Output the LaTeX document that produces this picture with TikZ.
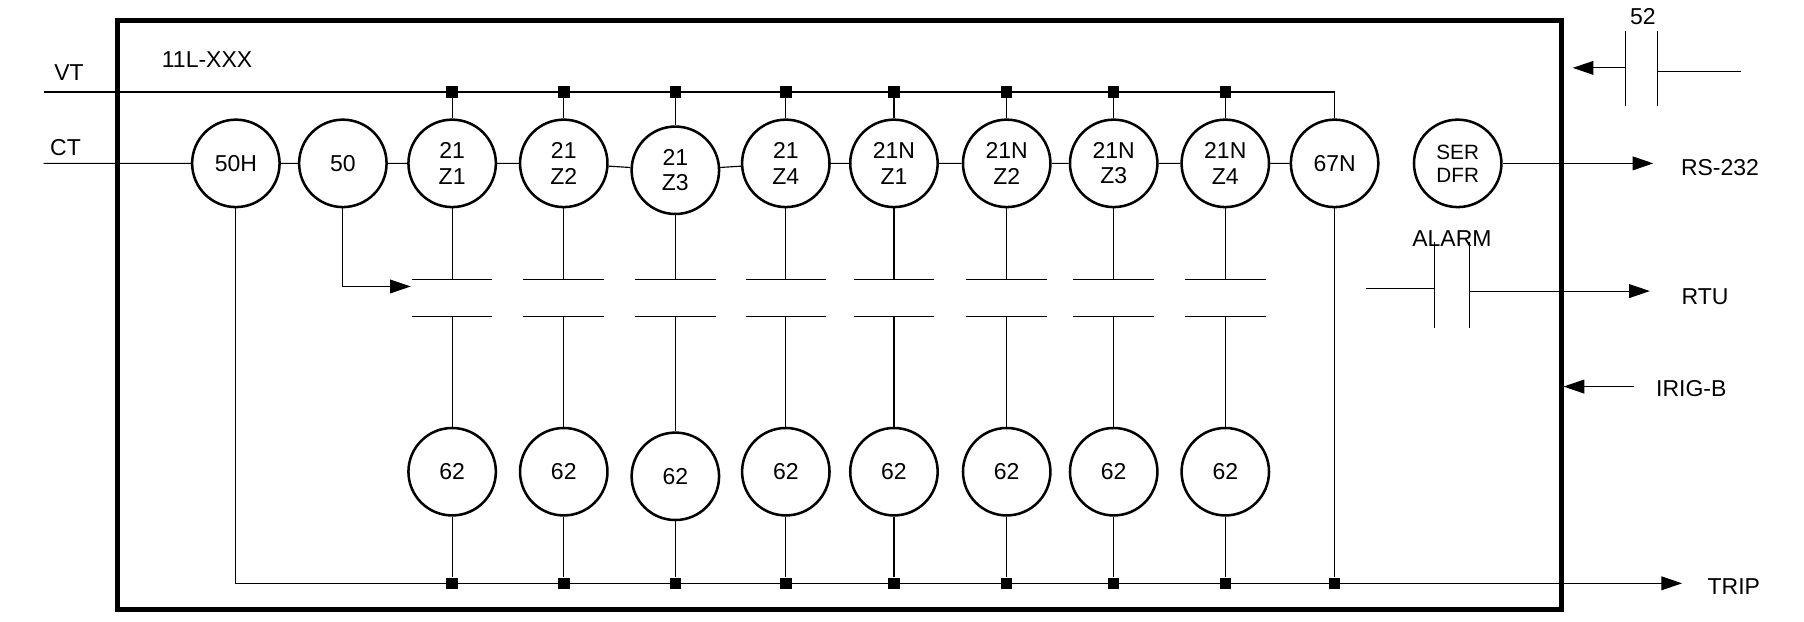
\documentclass[tikz,border=0pt]{standalone}
\usepackage{fontspec}
\setmainfont{Liberation Sans}
\usetikzlibrary{arrows.meta}
\begin{document}
\begin{tikzpicture}[x=0.5pt,y=-0.5pt,
  relay/.style={circle,draw,line width=1.1pt,minimum size=38pt,inner sep=0pt,align=center,font=\fontsize{10}{11}\selectfont},
  sq/.style={fill=black,minimum size=5pt,inner sep=0pt},
  lab/.style={font=\fontsize{10}{12}\selectfont},
  arr/.style={-{Triangle[length=9pt,width=6pt]}},
  wire/.style={line width=0.5pt}]
\useasboundingbox (0,0) rectangle (1568,540);
\draw[line width=2.2pt] (102,18) rectangle (1357,530);
\node[lab] at (180,52) {11L-XXX};
\node[lab] at (60,63) {VT};
\node[lab] at (57,128) {CT};
% relays
\node[relay] (h) at (205,142) {50H};
\node[relay] (f) at (298,142) {50};
\node[relay] (r1) at (393,142) {21\\Z1};
\node[relay] (r2) at (490,142) {21\\Z2};
\node[relay] (r3) at (587,148) {21\\Z3};
\node[relay] (r4) at (683,142) {21\\Z4};
\node[relay] (r5) at (777,142) {21N\\Z1};
\node[relay] (r6) at (875,142) {21N\\Z2};
\node[relay] (r7) at (968,142) {21N\\Z3};
\node[relay] (r8) at (1065,142) {21N\\Z4};
\node[relay] (n) at (1160,142) {67N};
\node[relay,font=\fontsize{9}{10}\selectfont] (s) at (1267,142) {SER\\DFR};
\coordinate (ctin) at (38,142);
\draw[wire] (ctin) -- (h) -- (f) -- (r1) -- (r2) -- (r3) -- (r4) -- (r5) -- (r6) -- (r7) -- (r8) -- (n);
% VT
\coordinate (vtin) at (38,80);
\coordinate (vtc) at (1160,80);
\draw[wire] (vtin) -- (vtc) -- (n);
% 62 relays and contacts
\foreach \i/\x/\y in {1/393/410,2/490/410,3/587/414,4/683/410,5/777/410,6/875/410,7/968/410,8/1065/410}{
  \node[relay] (t\i) at (\x,\y) {62};
  \node[sq] (v\i) at (\x,80) {};
  \node[sq] (b\i) at (\x,507) {};
  \coordinate (cu\i) at (\x,243);
  \coordinate (cl\i) at (\x,275);
  \draw[wire] (v\i) -- (r\i);
  \draw[wire] (r\i) -- (cu\i);
  \draw[wire] (cl\i) -- (t\i) -- (b\i);
  \draw[wire] (\x-35,243) -- (\x+35,243);
  \draw[wire] (\x-35,275) -- (\x+35,275);
}
\node[sq] (bn) at (1160,507) {};
\draw[wire] (n) -- (bn);
% 50 to contacts
\coordinate (fc) at (298,249);
\coordinate (fe) at (357,249);
\draw[wire,arr] (f) -- (fc) -- (fe);
% TRIP
\coordinate (hc) at (205,507);
\coordinate (tripe) at (1462,507);
\draw[wire,arr] (h) -- (hc) -- (tripe);
\node[lab] at (1507,510) {TRIP};
% RS-232
\coordinate (rse) at (1437,142);
\draw[wire,arr] (s) -- (rse);
\node[lab] at (1495,146) {RS-232};
% ALARM
\node[lab] at (1262,207) {ALARM};
\coordinate (al) at (1187,251);
\coordinate (a1) at (1247,251);
\coordinate (a2) at (1277,253);
\coordinate (ae) at (1434,253);
\draw[wire] (al) -- (a1);
\draw[wire] (1247,210) -- (1247,285);
\draw[wire] (1277,210) -- (1277,285);
\draw[wire,arr] (a2) -- (ae);
\node[lab] at (1482,258) {RTU};
% IRIG-B
\coordinate (ig) at (1420,336);
\coordinate (igb) at (1359,336);
\draw[wire,arr] (ig) -- (igb);
\node[lab] at (1470,338) {IRIG-B};
% 52
\coordinate (c52a) at (1413,59);
\coordinate (c52e) at (1367,59);
\coordinate (c52b) at (1441,62);
\coordinate (c52r) at (1513,62);
\draw[wire,arr] (c52a) -- (c52e);
\draw[wire] (1413,27) -- (1413,92);
\draw[wire] (1441,27) -- (1441,92);
\draw[wire] (c52b) -- (c52r);
\node[lab] at (1428,14) {52};
\end{tikzpicture}
\end{document}
